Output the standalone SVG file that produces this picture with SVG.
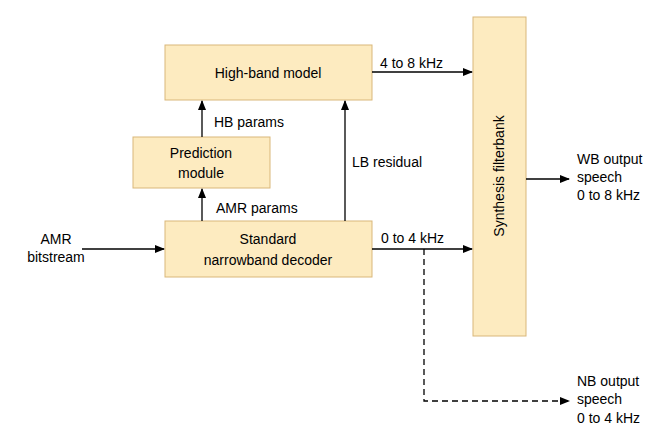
<svg xmlns="http://www.w3.org/2000/svg" width="664" height="434" viewBox="0 0 664 434">
<defs>
<marker id="ah" markerWidth="10" markerHeight="8" refX="9" refY="4" orient="auto" markerUnits="userSpaceOnUse"><path d="M0,0 L10,4 L0,8 z" fill="#000"/></marker>
<style>
.box{fill:#FDEBC0;stroke:#D9B77A;stroke-width:1}
.t{font-family:"Liberation Sans",Arial,sans-serif;font-size:14px;fill:#000}
.c{text-anchor:middle}
.ln{stroke:#000;stroke-width:1.3;fill:none}
</style>
</defs>
<rect width="664" height="434" fill="#fff"/>
<g id="hb"><rect class="box" x="165" y="45" width="207" height="55"/><text class="t c" x="268" y="78" font-size="15">High-band model</text></g>
<g id="pred"><rect class="box" x="133" y="137" width="137" height="51"/><text class="t c" x="201" y="158" font-size="15">Prediction</text><text class="t c" x="201" y="178" font-size="15">module</text></g>
<g id="nb"><rect class="box" x="165" y="221" width="207" height="56"/><text class="t c" x="268" y="244" font-size="15">Standard</text><text class="t c" x="268" y="265" font-size="15">narrowband decoder</text></g>
<g id="syn"><rect class="box" x="473" y="17" width="53" height="319"/><text class="t c" transform="translate(504,176) rotate(-90)" font-size="15">Synthesis filterbank</text></g>
<g id="connectors">
<path class="ln" d="M372,72 H472" marker-end="url(#ah)"/>
<path class="ln" d="M202,137 V101" marker-end="url(#ah)"/>
<path class="ln" d="M202,221 V189" marker-end="url(#ah)"/>
<path class="ln" d="M345,221 V101" marker-end="url(#ah)"/>
<path class="ln" d="M82,249 H164" marker-end="url(#ah)"/>
<path class="ln" d="M372,249 H472" marker-end="url(#ah)"/>
<path class="ln" d="M526,179 H569" marker-end="url(#ah)"/>
<path class="ln" d="M424,249 V401 H569" stroke-dasharray="6,4" marker-end="url(#ah)"/>
</g>
<g id="labels">
<text class="t" x="380" y="68">4 to 8 kHz</text>
<text class="t" x="214" y="127">HB params</text>
<text class="t" x="216" y="213">AMR params</text>
<text class="t" x="352" y="167">LB residual</text>
<text class="t" x="381" y="243">0 to 4 kHz</text>
<text class="t c" x="56" y="244">AMR</text>
<text class="t c" x="56" y="262">bitstream</text>
<text class="t" x="577" y="164">WB output</text>
<text class="t" x="577" y="182">speech</text>
<text class="t" x="577" y="200">0 to 8 kHz</text>
<text class="t" x="577" y="386">NB output</text>
<text class="t" x="577" y="404">speech</text>
<text class="t" x="577" y="423">0 to 4 kHz</text>
</g>
</svg>
